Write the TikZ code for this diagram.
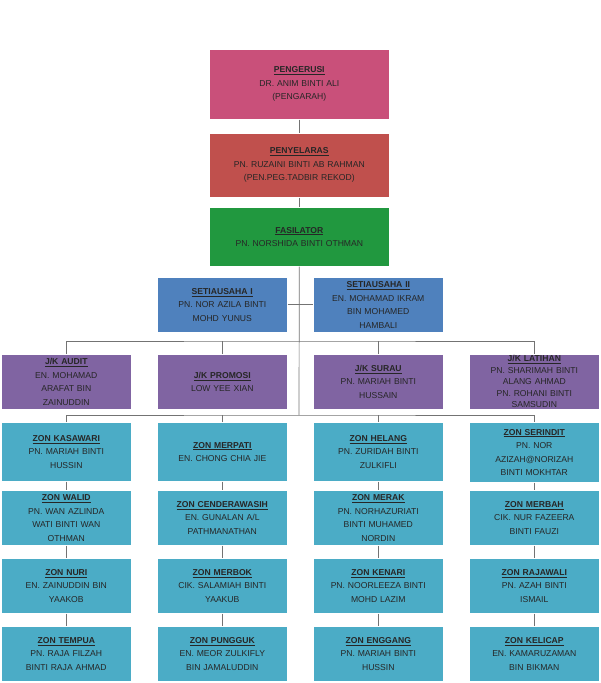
\documentclass[tikz,border=0pt]{standalone}
\usepackage{fontspec}
\setmainfont{Liberation Sans}
\begin{document}
\begin{tikzpicture}[x=1pt,y=-1pt,
 box/.style={draw=white,line width=0.6pt,minimum width=130pt,text width=126pt,align=center,anchor=north west,inner sep=1pt,text=black!85,font=\fontsize{8.6}{13.5}\selectfont},
 ln/.style={draw=black!55,line width=0.7pt}]
\definecolor{cpink}{HTML}{C9507A}
\definecolor{cred}{HTML}{C0504D}
\definecolor{cgreen}{HTML}{21983F}
\definecolor{cblue}{HTML}{4F81BD}
\definecolor{cpurp}{HTML}{8064A2}
\definecolor{cteal}{HTML}{4BACC6}
\newcommand{\ttl}[1]{\underline{\textbf{#1}}}
\useasboundingbox (0,0) rectangle (601,683);
% top
\node[box,fill=cpink,minimum width=180pt,text width=176pt,minimum height=70pt] (peng) at (209,49) {\ttl{PENGERUSI}\\DR. ANIM BINTI ALI\\(PENGARAH)};
\node[box,fill=cred,minimum width=180pt,text width=176pt,minimum height=64pt] (peny) at (209,133) {\ttl{PENYELARAS}\\PN. RUZAINI BINTI AB RAHMAN\\(PEN.PEG.TADBIR REKOD)};
\node[box,fill=cgreen,minimum width=180pt,text width=176pt,minimum height=59pt] (fas) at (209,207) {\ttl{FASILATOR}\\PN. NORSHIDA BINTI OTHMAN};
\node[box,fill=cblue,minimum height=55pt] (s1) at (157,277) {\ttl{SETIAUSAHA I}\\PN. NOR AZILA BINTI\\MOHD YUNUS};
\node[box,fill=cblue,minimum height=55pt] (s2) at (313,277) {\ttl{SETIAUSAHA II}\\EN. MOHAMAD IKRAM\\BIN MOHAMED\\HAMBALI};
% J/K
\node[box,fill=cpurp,minimum height=55pt] (j1) at (1,354) {\ttl{J/K AUDIT}\\EN. MOHAMAD\\ARAFAT BIN\\ZAINUDDIN};
\node[box,fill=cpurp,minimum height=55pt] (j2) at (157,354) {\ttl{J/K PROMOSI}\\LOW YEE XIAN};
\node[box,fill=cpurp,minimum height=55pt] (j3) at (313,354) {\ttl{J/K SURAU}\\PN. MARIAH BINTI\\HUSSAIN};
\node[box,fill=cpurp,minimum height=55pt,font=\fontsize{8.6}{11.5}\selectfont] (j4) at (469,354) {\ttl{J/K LATIHAN}\\PN. SHARIMAH BINTI\\ALANG AHMAD\\PN. ROHANI BINTI\\SAMSUDIN};
% zones
\foreach \n/\x/\y/\h/\t in {
 a1/1/422/59/{\ttl{ZON KASAWARI}\\PN. MARIAH BINTI\\HUSSIN},
 a2/1/490/55/{\ttl{ZON WALID}\\PN. WAN AZLINDA\\WATI BINTI WAN\\OTHMAN},
 a3/1/558/55/{\ttl{ZON NURI}\\EN. ZAINUDDIN BIN\\YAAKOB},
 a4/1/626/55/{\ttl{ZON TEMPUA}\\PN. RAJA FILZAH\\BINTI RAJA AHMAD},
 b1/157/422/59/{\ttl{ZON MERPATI}\\EN. CHONG CHIA JIE},
 b2/157/490/55/{\ttl{ZON CENDERAWASIH}\\EN. GUNALAN A/L\\PATHMANATHAN},
 b3/157/558/55/{\ttl{ZON MERBOK}\\CIK. SALAMIAH BINTI\\YAAKUB},
 b4/157/626/55/{\ttl{ZON PUNGGUK}\\EN. MEOR ZULKIFLY\\BIN JAMALUDDIN},
 c1/313/422/59/{\ttl{ZON HELANG}\\PN. ZURIDAH BINTI\\ZULKIFLI},
 c2/313/490/55/{\ttl{ZON MERAK}\\PN. NORHAZURIATI\\BINTI MUHAMED\\NORDIN},
 c3/313/558/55/{\ttl{ZON KENARI}\\PN. NOORLEEZA BINTI\\MOHD LAZIM},
 c4/313/626/55/{\ttl{ZON ENGGANG}\\PN. MARIAH BINTI\\HUSSIN},
 d1/469/422/60/{\ttl{ZON SERINDIT}\\PN. NOR\\AZIZAH@NORIZAH\\BINTI MOKHTAR},
 d2/469/490/55/{\ttl{ZON MERBAH}\\CIK. NUR FAZEERA\\BINTI FAUZI},
 d3/469/558/55/{\ttl{ZON RAJAWALI}\\PN. AZAH BINTI\\ISMAIL},
 d4/469/626/55/{\ttl{ZON KELICAP}\\EN. KAMARUZAMAN\\BIN BIKMAN}}
 {\node[box,fill=cteal,minimum height=\h pt] (\n) at (\x,\y) {\t};}
% connectors
\coordinate (bus1) at (299,341);
\coordinate (bus2) at (299,415);
\draw[ln] (peng.south) -- (peny.north);
\draw[ln] (peny.south) -- (fas.north);
\draw[ln] (fas.south) -- (bus2);
\draw[ln] (s1.east) -- (s2.west);
\draw[ln] (j1.north) |- (bus1) -| (j4.north);
\draw[ln] (j2.north) -- (j2.north |- bus1);
\draw[ln] (j3.north) -- (j3.north |- bus1);
\draw[ln] (a1.north) |- (bus2) -| (d1.north);
\draw[ln] (b1.north) -- (b1.north |- bus2);
\draw[ln] (c1.north) -- (c1.north |- bus2);
\foreach \c in {a,b,c,d}{
 \draw[ln] (\c1.south) -- (\c2.north);
 \draw[ln] (\c2.south) -- (\c3.north);
 \draw[ln] (\c3.south) -- (\c4.north);}
\end{tikzpicture}
\end{document}
